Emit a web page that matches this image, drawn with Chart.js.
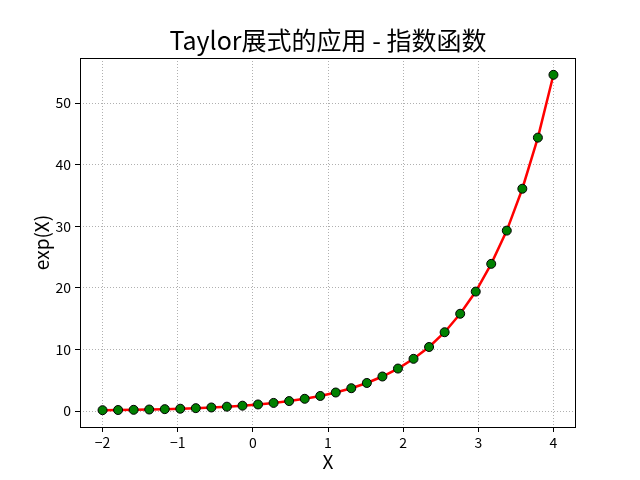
<!DOCTYPE html>
<html>
<head>
<meta charset="utf-8">
<script src="https://cdn.jsdelivr.net/npm/chart.js@4/dist/chart.umd.min.js"></script>
<style>
  html, body { margin: 0; padding: 0; background: #fff; }
  #wrap { width: 640px; height: 480px; }
</style>
</head>
<body>
<div id="wrap"><canvas id="expChart" width="640" height="480"></canvas></div>
<script>
// Dados
var xValues = [-2.000, -1.793, -1.586, -1.379, -1.172, -0.966, -0.759, -0.552, -0.345, -0.138,
               0.069, 0.276, 0.483, 0.690, 0.897, 1.103, 1.310, 1.517, 1.724, 1.931,
               2.138, 2.345, 2.552, 2.759, 2.966, 3.172, 3.379, 3.586, 3.793, 4.000];
var yValues = [0.14, 0.17, 0.20, 0.25, 0.31, 0.38, 0.47, 0.58, 0.71, 0.87,
               1.07, 1.32, 1.62, 1.99, 2.45, 3.01, 3.71, 4.56, 5.61, 6.90,
               8.48, 10.4, 12.8, 15.8, 19.4, 23.9, 29.3, 36.1, 44.4, 54.6];
var xTicks = [-2, -1, 0, 1, 2, 3, 4];
var yTicks = [0, 10, 20, 30, 40, 50];

var titleText = 'Taylor展式的应用 - 指数函数';
var xLabel = 'X';
var yLabel = 'exp(X)';
var cjkFont = '"Noto Sans CJK SC", "DejaVu Sans", sans-serif';

function fixTicks(list) {
    return function (scale) {
        scale.ticks = list.map(function (v) { return { value: v }; });
    };
}

function minusSign(v) {
    return String(v).replace('-', '\u2212');
}

// título, rótulos dos eixos e moldura
var textPlugin = {
    id: 'textPlugin',
    afterDraw: function (chart) {
        var ctx = chart.ctx;
        var a = chart.chartArea;
        ctx.save();
        ctx.strokeStyle = '#000';
        ctx.lineWidth = 1;
        ctx.strokeRect(Math.round(a.left) + 0.5, Math.round(a.top) + 0.5,
                       Math.round(a.right - a.left) - 1, Math.round(a.bottom - a.top));
        ctx.fillStyle = '#000';
        ctx.textAlign = 'center';
        ctx.textBaseline = 'middle';
        ctx.font = '25px ' + cjkFont;
        ctx.fillText(titleText, (a.left + a.right) / 2, 40);
        ctx.font = '19px ' + cjkFont;
        ctx.fillText(xLabel, (a.left + a.right) / 2, 462);
        ctx.translate(42, (a.top + a.bottom) / 2);
        ctx.rotate(-Math.PI / 2);
        ctx.fillText(yLabel, 0, 0);
        ctx.restore();
    }
};

document.addEventListener('DOMContentLoaded', function () {
    var points = xValues.map(function (x, i) { return { x: x, y: yValues[i] }; });
    var ctx = document.getElementById('expChart').getContext('2d');
    new Chart(ctx, {
        type: 'line',
        data: {
            datasets: [{
                data: points,
                borderColor: '#ff0000',
                borderWidth: 2.5,
                pointBackgroundColor: '#008000',
                pointBorderColor: '#000000',
                pointBorderWidth: 1,
                pointRadius: 4.5,
                tension: 0
            }]
        },
        options: {
            responsive: false,
            animation: false,
            layout: { padding: { top: 58, right: 64, bottom: 0, left: 0 } },
            plugins: {
                legend: { display: false },
                tooltip: { enabled: false },
                title: { display: false }
            },
            scales: {
                x: {
                    type: 'linear',
                    min: -2.3,
                    max: 4.3,
                    afterBuildTicks: fixTicks(xTicks),
                    afterFit: function (s) { s.height = 53; },
                    border: { display: false, dash: [1, 2] },
                    grid: {
                        color: '#b0b0b0',
                        tickColor: '#000',
                        tickLength: 5,
                        tickBorderDash: []
                    },
                    ticks: {
                        color: '#000',
                        padding: 2,
                        maxRotation: 0,
                        font: { family: cjkFont, size: 14 },
                        callback: minusSign
                    }
                },
                y: {
                    type: 'linear',
                    min: -2.59,
                    max: 57.33,
                    afterBuildTicks: fixTicks(yTicks),
                    afterFit: function (s) { s.width = 80; },
                    border: { display: false, dash: [1, 2] },
                    grid: {
                        color: '#b0b0b0',
                        tickColor: '#000',
                        tickLength: 5,
                        tickBorderDash: []
                    },
                    ticks: {
                        color: '#000',
                        padding: 4,
                        font: { family: cjkFont, size: 14 },
                        callback: minusSign
                    }
                }
            }
        },
        plugins: [textPlugin]
    });
});
</script>
</body>
</html>
